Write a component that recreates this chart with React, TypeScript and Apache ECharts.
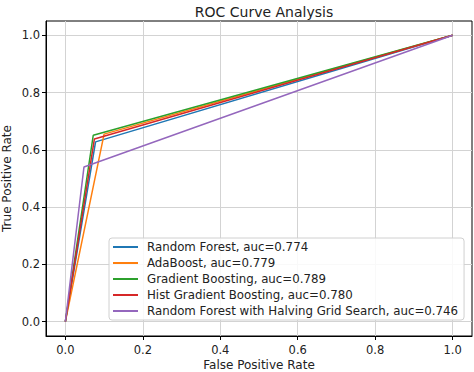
import React, { useEffect, useRef } from "react";
import * as echarts from "echarts";

const seriesNames = [
  "Random Forest, auc=0.774",
  "AdaBoost, auc=0.779",
  "Gradient Boosting, auc=0.789",
  "Hist Gradient Boosting, auc=0.780",
  "Random Forest with Halving Grid Search, auc=0.746",
];
const colors = ["#1f77b4", "#ff7f0e", "#2ca02c", "#d62728", "#9467bd"];
const fprValues = [
  [0, 0.078, 1],
  [0, 0.1, 1],
  [0, 0.072, 1],
  [0, 0.075, 1],
  [0, 0.048, 1],
];
const tprValues = [
  [0, 0.628, 1],
  [0, 0.655, 1],
  [0, 0.651, 1],
  [0, 0.638, 1],
  [0, 0.54, 1],
];
const tickValues = [0, 0.2, 0.4, 0.6, 0.8, 1.0];

const FONT = "DejaVu Sans";

export default function App() {
  const ref = useRef<HTMLDivElement>(null);
  useEffect(() => {
    document.body.style.margin = "0";
    const chart = echarts.init(ref.current!, null, { renderer: "svg" });
    const axisCommon = {
      type: "value" as const,
      min: -0.05,
      max: 1.05,
      axisLine: { show: true, onZero: false, lineStyle: { color: "#000", width: 1 } },
      axisTick: {
        show: true,
        inside: false,
        length: 4,
        customValues: tickValues,
        lineStyle: { color: "#000" },
      },
      axisLabel: {
        customValues: tickValues,
        formatter: (v: number) => v.toFixed(1),
        color: "#222",
        fontSize: 11.5,
        fontFamily: FONT,
      },
      splitLine: { show: true, lineStyle: { color: "#d3d3d3", width: 1 } },
      nameLocation: "middle" as const,
      nameMoveOverlap: false,
      nameTextStyle: { color: "#222", fontSize: 12, fontFamily: FONT },
    };
    chart.setOption({
      animation: false,
      backgroundColor: "#fff",
      title: {
        text: "ROC Curve Analysis",
        left: 259,
        textAlign: "center",
        top: 0,
        textStyle: { fontFamily: FONT, fontSize: 14, fontWeight: "normal", color: "#222" },
      },
      grid: {
        left: 46,
        right: 2,
        top: 21,
        bottom: 36,
        outerBoundsMode: "none",
        containLabel: false,
        show: true,
        borderColor: "#000",
        borderWidth: 1,
        backgroundColor: "transparent",
      },
      xAxis: {
        ...axisCommon,
        name: "False Positive Rate",
        nameGap: 23,
        axisLabel: { ...axisCommon.axisLabel, margin: 8 },
      },
      yAxis: {
        ...axisCommon,
        name: "True Positive Rate",
        nameGap: 33,
        axisLabel: { ...axisCommon.axisLabel, margin: 6 },
      },
      legend: {
        orient: "vertical",
        left: 109,
        top: 238,
        padding: [3, 6, 3, 4],
        itemGap: 4,
        itemWidth: 25,
        itemHeight: 2,
        icon: "rect",
        backgroundColor: "rgba(255,255,255,0.85)",
        borderColor: "#d0d0d0",
        borderWidth: 1,
        borderRadius: 3,
        textStyle: { fontFamily: FONT, fontSize: 11.8, color: "#222", padding: [0, 0, 0, 4] },
        data: seriesNames,
      },
      series: seriesNames.map((name, i) => ({
        name,
        type: "line",
        data: fprValues[i].map((x, j) => [x, tprValues[i][j]]),
        showSymbol: false,
        symbol: "none",
        lineStyle: { color: colors[i], width: 1.5 },
        itemStyle: { color: colors[i] },
      })),
    });
    return () => chart.dispose();
  }, []);
  return <div ref={ref} style={{ width: 474, height: 372 }} />;
}
